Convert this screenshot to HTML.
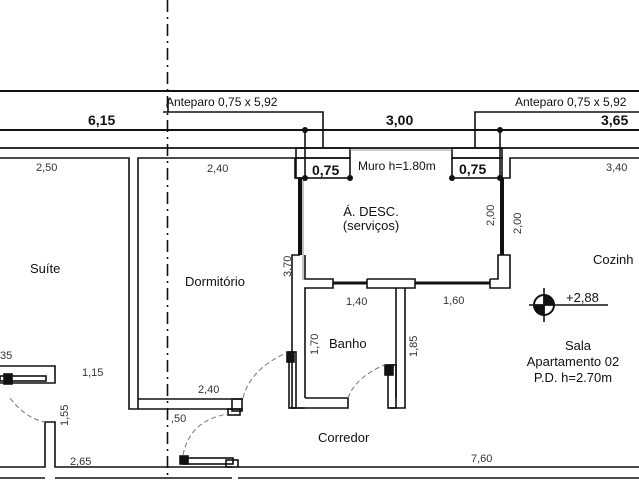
<!DOCTYPE html>
<html><head><meta charset="utf-8"><style>
html,body{margin:0;padding:0;background:#fff;}
svg{display:block;}
text{font-family:"Liberation Sans",sans-serif;fill:#111;}
.d{font-size:11px;fill:#333;}
</style></head><body>
<svg width="639" height="480" viewBox="0 0 639 480" xmlns="http://www.w3.org/2000/svg">
<g stroke="#111" fill="none" stroke-width="1.6">
<line x1="0" y1="91" x2="639" y2="91" stroke-width="2"/>
<line x1="0" y1="130" x2="639" y2="130" stroke-width="2"/>
<line x1="0" y1="148" x2="639" y2="148" stroke-width="1.8"/>
<polyline points="163,112 323,112 323,148"/>
<line x1="168" y1="112" x2="168" y2="98"/>
<polyline points="639,112 475,112 475,148"/>
<polyline points="0,158 129,158 129,409 243,409"/>
<polyline points="138,409 138,158 295,158 295,178 305,178"/>
<line x1="138" y1="399" x2="243" y2="399"/>
<rect x="296" y="158" width="54" height="20"/>
<rect x="296" y="148" width="54" height="10"/>
<line x1="305" y1="130" x2="305" y2="178"/>
<rect x="452" y="158" width="50" height="20"/>
<rect x="452" y="148" width="50" height="10"/>
<line x1="500" y1="130" x2="500" y2="178"/>
<line x1="350" y1="150" x2="452" y2="150" stroke="#999" stroke-width="1"/>
<polyline points="502,178 510,178 510,158 639,158"/>
<line x1="300" y1="178" x2="300" y2="255" stroke-width="4"/>
<line x1="303" y1="178" x2="303" y2="280" stroke="#888" stroke-width="1"/>
<line x1="502" y1="178" x2="502" y2="255" stroke-width="4"/>
<polyline points="300,255 292,255 292,408 305,408"/>
<polyline points="305,398 305,288 333,288 333,279 305,279 305,255"/>
<polyline points="333,283 367,283" stroke-width="3"/>
<polyline points="367,279 367,288 415,288 415,279 367,279"/>
<polyline points="396,398 396,288"/>
<polyline points="405,288 405,408 390,408"/>
<polyline points="415,283 490,283" stroke-width="3"/>
<polyline points="490,279 490,288 510,288 510,255 498,255 498,279 490,279"/>
<polyline points="290,408 348,408 348,398 305,398"/>
<rect x="289" y="352" width="7" height="56"/>
<rect x="287" y="352" width="7" height="10" fill="#111"/>
<rect x="388" y="365" width="8" height="43"/>
<rect x="385" y="365" width="8" height="10" fill="#111"/>
<rect x="232" y="399" width="10" height="12"/>
<rect x="228" y="409" width="12" height="6"/>
<polyline points="0,467 45,467 45,422 55,422 55,467 232,467"/>
<polyline points="238,467 639,467"/>
<line x1="0" y1="478" x2="45" y2="478"/>
<line x1="55" y1="478" x2="232" y2="478"/>
<line x1="238" y1="478" x2="639" y2="478"/>
<rect x="183" y="458" width="50" height="6"/>
<rect x="180" y="456" width="8" height="8" fill="#111"/>
<rect x="226" y="460" width="12" height="7"/>
<polyline points="0,366 55,366 55,383 0,383"/>
<rect x="0" y="376" width="46" height="5"/>
<rect x="4" y="374" width="8" height="10" fill="#111"/>
<g stroke="#777" stroke-width="1" stroke-dasharray="5,3">
<path d="M10,398 Q25,418 45,422"/>
<path d="M243,398 Q250,370 284,354"/>
<path d="M183,455 Q190,420 228,414"/>
<path d="M348,398 Q355,378 384,365"/>
</g>
<line x1="167.5" y1="0" x2="167.5" y2="480" stroke-width="1.6" stroke-dasharray="12,5,2,5"/>
<circle cx="544" cy="305" r="10" stroke-width="2"/>
<path d="M544,295 A10,10 0 0 1 554,305 L544,305Z M544,315 A10,10 0 0 1 534,305 L544,305Z" fill="#111"/>
<line x1="529" y1="305" x2="608" y2="305"/>
<line x1="544" y1="288" x2="544" y2="322"/>
</g>
<g fill="#111">
<circle cx="305" cy="130" r="3"/><circle cx="500" cy="130" r="3"/>
<circle cx="305" cy="178" r="3"/><circle cx="350" cy="178" r="3"/>
<circle cx="452" cy="178" r="3"/><circle cx="500" cy="178" r="3"/>
</g>
<text x="166" y="106" font-size="12">Anteparo 0,75 x 5,92</text>
<text x="515" y="106" font-size="12">Anteparo 0,75 x 5,92</text>
<text x="88" y="125" font-size="14" font-weight="bold">6,15</text>
<text x="386" y="125" font-size="14" font-weight="bold">3,00</text>
<text x="601" y="125" font-size="14" font-weight="bold">3,65</text>
<text x="312" y="175" font-size="14" font-weight="bold">0,75</text>
<text x="459" y="174" font-size="14" font-weight="bold">0,75</text>
<text x="358" y="170" font-size="12">Muro h=1.80m</text>
<text x="36" y="171" class="d">2,50</text>
<text x="207" y="172" class="d">2,40</text>
<text x="606" y="171" class="d">3,40</text>
<text x="371" y="216" font-size="13" text-anchor="middle">Á. DESC.</text>
<text x="371" y="230" font-size="13" text-anchor="middle">(serviços)</text>
<text x="30" y="273" font-size="13">Suíte</text>
<text x="185" y="286" font-size="13">Dormitório</text>
<text x="593" y="264" font-size="13">Cozinh</text>
<text x="329" y="348" font-size="13">Banho</text>
<text x="318" y="442" font-size="13">Corredor</text>
<text x="578" y="350" font-size="13" text-anchor="middle">Sala</text>
<text x="573" y="366" font-size="13" text-anchor="middle">Apartamento 02</text>
<text x="573" y="382" font-size="13" text-anchor="middle">P.D. h=2.70m</text>
<text x="566" y="302" font-size="13">+2,88</text>
<text x="346" y="305" class="d">1,40</text>
<text x="443" y="304" class="d">1,60</text>
<text x="82" y="376" class="d">1,15</text>
<text x="198" y="393" class="d">2,40</text>
<text x="171" y="422" class="d">,50</text>
<text x="70" y="465" class="d">2,65</text>
<text x="471" y="462" class="d">7,60</text>
<text x="0" y="359" class="d">35</text>
<text class="d" transform="translate(291,277) rotate(-90)">3,70</text>
<text class="d" transform="translate(494,226) rotate(-90)">2,00</text>
<text class="d" transform="translate(521,234) rotate(-90)">2,00</text>
<text class="d" transform="translate(318,355) rotate(-90)">1,70</text>
<text class="d" transform="translate(417,357) rotate(-90)">1,85</text>
<text class="d" transform="translate(68,426) rotate(-90)">1,55</text>
</svg>
</body></html>
